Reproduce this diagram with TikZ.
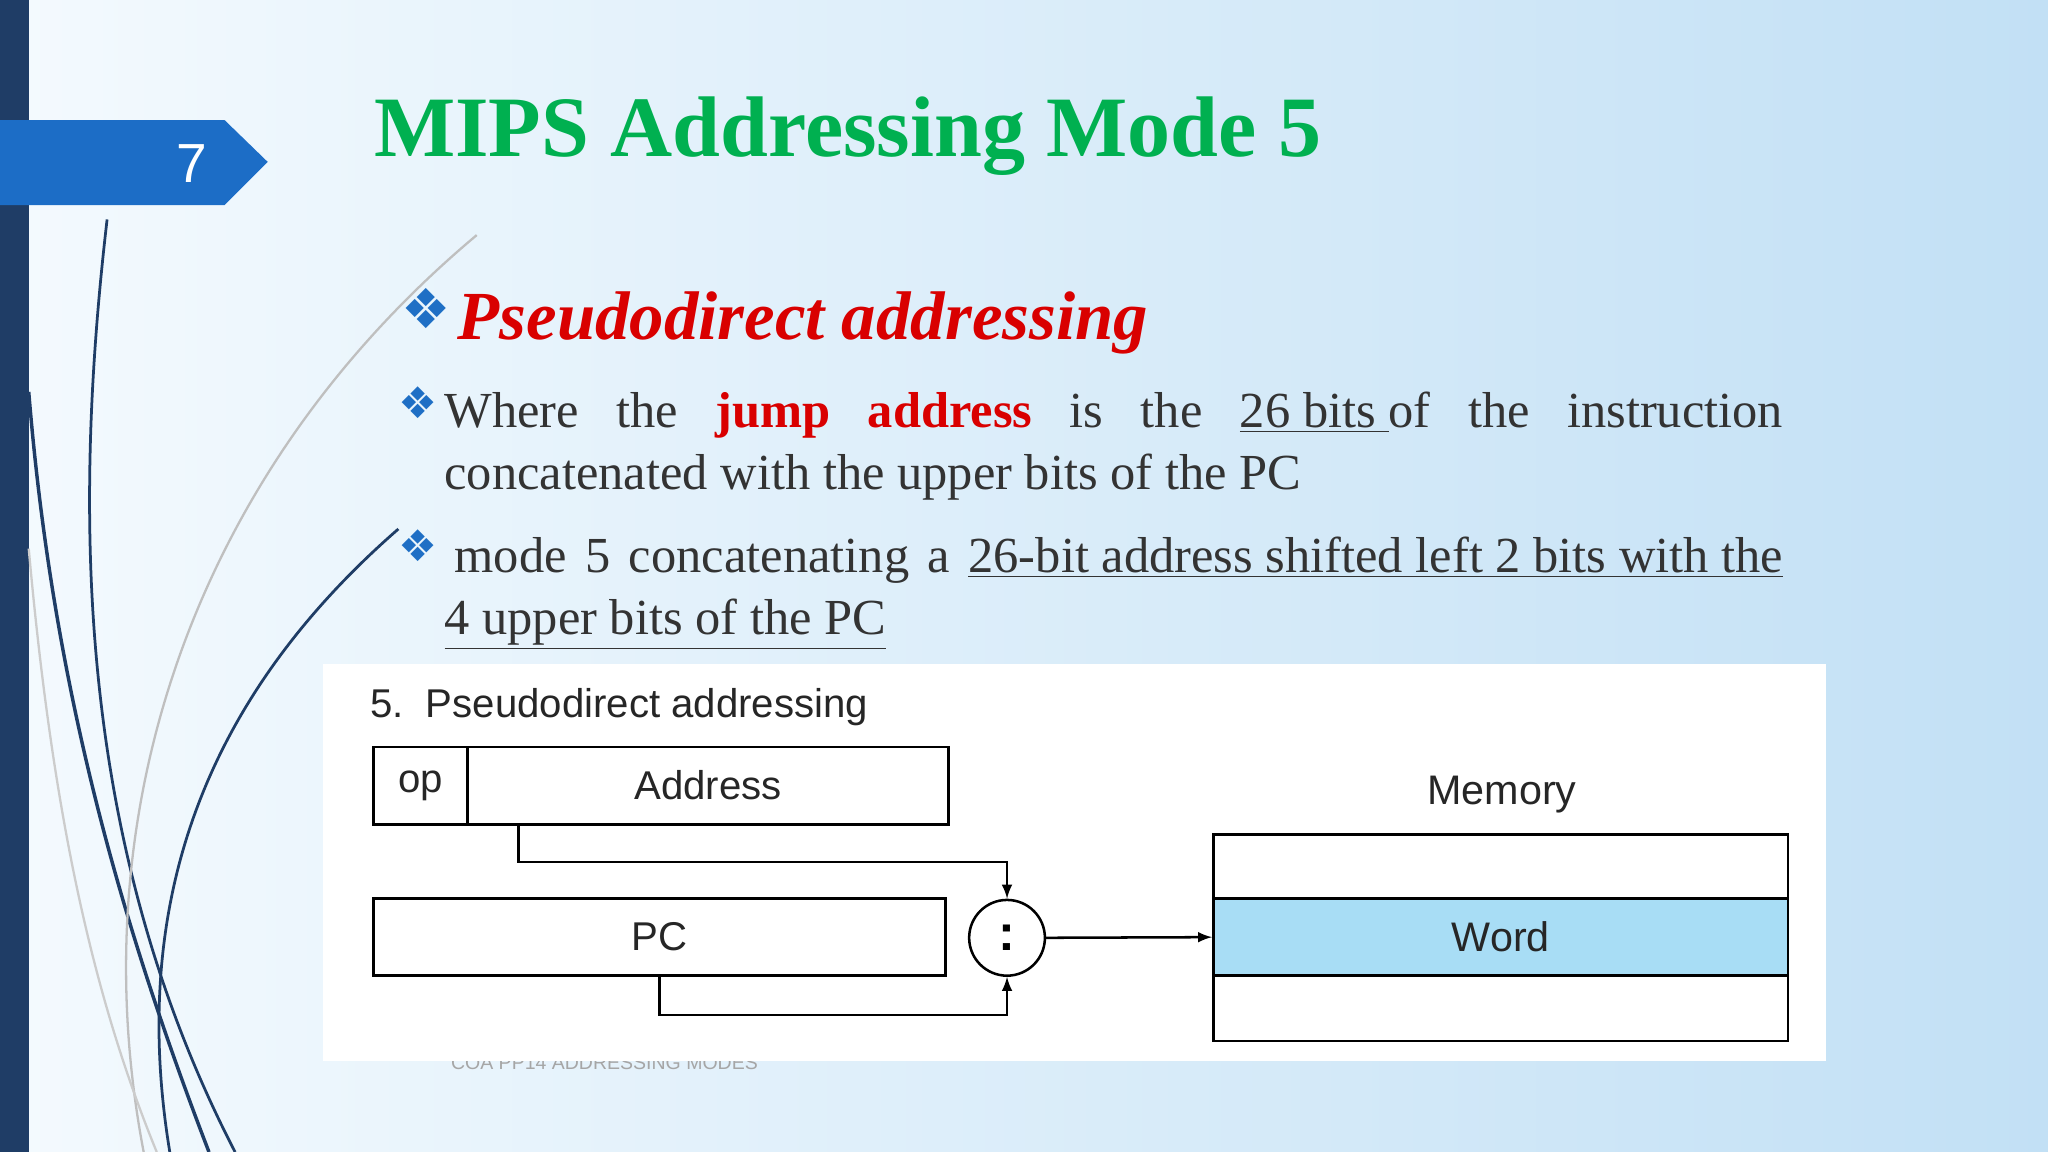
\documentclass[tikz,border=0pt]{standalone}
\usepackage{fontspec}
\setmainfont{Liberation Serif}
\newfontfamily\diagfont{Liberation Sans}
\newfontfamily\symfont{DejaVu Sans}
\definecolor{navy}{HTML}{1F3D66}
\definecolor{tagblue}{HTML}{1C6DC6}
\definecolor{titlegreen}{HTML}{00B050}
\definecolor{bulblue}{HTML}{1F6FC5}
\definecolor{wordblue}{HTML}{A8DDF5}
\definecolor{bgl}{HTML}{F4FAFE}
\definecolor{bgr}{HTML}{C2E0F5}
\tikzset{
  box/.style={draw=black, line width=1.2pt},
  conn/.style={draw=black, line width=1.1pt},
  dtext/.style={font=\diagfont\fontsize{17.5}{21}\selectfont, text=black!85},
  bodytext/.style={font=\fontsize{22}{27}\selectfont, text=black!80, align=justify, text width=20.5cm, anchor=north west, inner sep=0pt},
  bul/.style={font=\symfont\fontsize{19}{19}\selectfont, text=bulblue, inner sep=0pt}
}
\begin{document}
\begin{tikzpicture}[x=0.02cm,y=-0.02cm]
\useasboundingbox (0,0) rectangle (1568,882);
\shade[left color=bgl, right color=bgr] (0,0) rectangle (1568,882);
% left decoration
\fill[navy] (0,0) rectangle (22,882);
\draw[navy, line width=1.2pt] (82,168) .. controls (55,400) and (60,650) .. (180,882);
\draw[navy, line width=1.5pt] (22,300) .. controls (40,520) and (90,700) .. (160,882);
\draw[navy, line width=1.2pt] (305,405) .. controls (150,540) and (100,700) .. (130,882);
\draw[black!25, line width=1pt] (365,180) .. controls (150,360) and (60,620) .. (110,882);
\draw[black!20, line width=1pt] (22,420) .. controls (40,620) and (70,760) .. (120,882);
% tag
\fill[tagblue] (0,92) -- (172,92) -- (205,124) -- (172,157) -- (0,157) -- cycle;
\node[text=white, font=\diagfont\fontsize{24}{24}\selectfont] (num) at (147,125) {7};
% title
\node[anchor=west, text=titlegreen, font=\bfseries\fontsize{37.5}{40}\selectfont, inner sep=0pt] (title) at (286,104) {MIPS Addressing Mode 5};
% bullets
\node[bul, font=\symfont\fontsize{24}{24}\selectfont] (b1) at (326,236) {❖};
\node[anchor=west, text=red!85!black, font=\bfseries\itshape\fontsize{30}{30}\selectfont, inner sep=0pt] (sub) at (350,247) {Pseudodirect addressing};
\node[bul] (b2) at (320,308) {❖};
\node[bodytext] (p1) at (340,300) {Where the \textcolor{red!85!black}{\textbf{jump address}} is the \underline{26 bits\ }of the instruction\linebreak concatenated with the upper bits of the PC};
\node[bul] (b3) at (320,418) {❖};
\node[bodytext] (p2) at (340,411) {\hspace{0.2em}mode 5 concatenating a \underline{26-bit\ address\ shifted\ left\ 2\ bits\ with\ the}\linebreak \underline{4\ upper\ bits\ of\ the\ PC}};
% footer (partly hidden)
\node[anchor=west, text=black!35, font=\diagfont\fontsize{8.5}{9}\selectfont, inner sep=0pt] (foot) at (345,814) {COA PP14 ADDRESSING MODES};
% diagram panel
\fill[white] (247,508) rectangle (1398,812);
\node[dtext, anchor=west, inner sep=0pt] (dtitle) at (283,541) {5.\ \ Pseudodirect addressing};
\node[box, dtext, minimum width=72*0.02cm, minimum height=59*0.02cm, inner sep=0pt] (op) at (322,601.5) {op};
\node[box, dtext, minimum width=368*0.02cm, minimum height=59*0.02cm, inner sep=0pt] (addr) at (542,601.5) {Address};
\node[box, dtext, minimum width=438*0.02cm, minimum height=59*0.02cm, inner sep=0pt] (pc) at (505,717.5) {PC};
\node[draw=black, line width=1.1pt, circle, minimum size=58*0.02cm, inner sep=0pt, font=\diagfont\bfseries\fontsize{22}{22}\selectfont] (cat) at (771,718) {:};
\node[dtext, font=\diagfont\fontsize{18}{20}\selectfont] (memlbl) at (1150,608) {Memory};
\node[box, minimum width=440*0.02cm, minimum height=49*0.02cm, inner sep=0pt] (m1) at (1149,663.5) {};
\node[box, dtext, fill=wordblue, minimum width=440*0.02cm, minimum height=59*0.02cm, inner sep=0pt, font=\diagfont\fontsize{18}{20}\selectfont] (word) at (1149,717.5) {Word};
\node[box, minimum width=440*0.02cm, minimum height=50*0.02cm, inner sep=0pt] (m3) at (1149,772) {};
\coordinate (a1) at (397,660);
\coordinate (a2) at (771,660);
\coordinate (c1) at (505,777);
\coordinate (c2) at (771,777);
\draw[conn, -latex] (addr.south -| a1) -- (a1) -- (a2) -- (cat.north);
\draw[conn, -latex] (pc.south -| c1) -- (c1) -- (c2) -- (cat.south);
\draw[conn, -latex] (cat.east) -- (word.west);
\end{tikzpicture}
\end{document}
